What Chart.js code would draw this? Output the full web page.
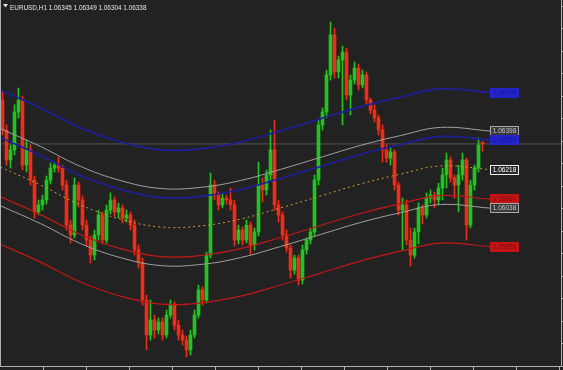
<!DOCTYPE html>
<html>
<head>
<meta charset="utf-8">
<script src="https://cdn.jsdelivr.net/npm/chart.js@4.4.0/dist/chart.umd.min.js"></script>
<style>
  html, body { margin: 0; padding: 0; background: #222222; }
  canvas { display: block; }
</style>
</head>
<body>
<canvas id="chart" width="563" height="370"></canvas>
<script>
const symbol = "EURUSD,H1";
const lastBar = ["1.06345", "1.06349", "1.06304", "1.06338"];

// H1 candles, oldest first
const opens = [
  1.06543, 1.06403, 1.06263, 1.06310, 1.06487, 1.06543, 1.06239, 1.06310, 1.06169, 1.06020,
  1.06053, 1.06076, 1.06169, 1.06225, 1.06239, 1.06225, 1.06146, 1.05959, 1.05913, 1.06146,
  1.06076, 1.05959, 1.05889, 1.05819, 1.05913, 1.06006, 1.05889, 1.06029, 1.06076, 1.06020,
  1.06039, 1.05992, 1.06006, 1.05959, 1.05843, 1.05786, 1.05609, 1.05446, 1.05516, 1.05469,
  1.05506, 1.05446, 1.05539, 1.05586, 1.05492, 1.05446, 1.05422, 1.05376, 1.05446, 1.05539,
  1.05656, 1.05609, 1.05819, 1.06146, 1.06099, 1.06053, 1.06085, 1.06076, 1.06053, 1.05889,
  1.05936, 1.05889, 1.05959, 1.05866, 1.05927, 1.06146, 1.06123, 1.06193, 1.06310, 1.06053,
  1.06006, 1.05913, 1.05852, 1.05749, 1.05805, 1.05702, 1.05843, 1.05889, 1.05927, 1.06169,
  1.06426, 1.06487, 1.06660, 1.06847, 1.06674, 1.06730, 1.06767, 1.06566, 1.06636, 1.06692,
  1.06613, 1.06660, 1.06543, 1.06496, 1.06459, 1.06403, 1.06310, 1.06272, 1.06300, 1.06146,
  1.06029, 1.06053, 1.05889, 1.05819, 1.05927, 1.06039, 1.06006, 1.06085, 1.06099, 1.06076,
  1.06132, 1.06193, 1.06263, 1.06179, 1.06146, 1.06193, 1.06263, 1.05959, 1.06146, 1.06225,
  1.06345
];
const highs = [
  1.06580, 1.06426, 1.06333, 1.06520, 1.06599, 1.06562, 1.06356, 1.06333, 1.06188, 1.06076,
  1.06099, 1.06188, 1.06249, 1.06253, 1.06277, 1.06239, 1.06169, 1.05983, 1.06179, 1.06160,
  1.06095, 1.05983, 1.05908, 1.05936, 1.06029, 1.06020, 1.06053, 1.06109, 1.06090, 1.06062,
  1.06053, 1.06029, 1.06020, 1.05983, 1.05866, 1.05805, 1.05632, 1.05609, 1.05539, 1.05525,
  1.05525, 1.05562, 1.05609, 1.05600, 1.05516, 1.05469, 1.05441, 1.05469, 1.05562, 1.05679,
  1.05670, 1.05833, 1.06202, 1.06169, 1.06113, 1.06104, 1.06099, 1.06132, 1.06076, 1.05959,
  1.05950, 1.05983, 1.05973, 1.05945, 1.06253, 1.06179, 1.06216, 1.06403, 1.06450, 1.06076,
  1.06020, 1.05936, 1.05866, 1.05819, 1.05819, 1.05866, 1.05899, 1.05945, 1.06193, 1.06450,
  1.06506, 1.06683, 1.06907, 1.06879, 1.06748, 1.06795, 1.06786, 1.06660, 1.06720, 1.06711,
  1.06683, 1.06674, 1.06552, 1.06520, 1.06473, 1.06426, 1.06333, 1.06319, 1.06310, 1.06160,
  1.06085, 1.06076, 1.05945, 1.05945, 1.06062, 1.06053, 1.06109, 1.06123, 1.06113, 1.06155,
  1.06225, 1.06295, 1.06277, 1.06193, 1.06239, 1.06295, 1.06272, 1.06169, 1.06239, 1.06366,
  1.06349
];
const lows = [
  1.06380, 1.06239, 1.06225, 1.06286, 1.06459, 1.06216, 1.06207, 1.06146, 1.05992, 1.06006,
  1.06029, 1.06057, 1.06151, 1.06207, 1.06207, 1.06123, 1.05936, 1.05875, 1.05899, 1.06043,
  1.05936, 1.05861, 1.05782, 1.05796, 1.05889, 1.05871, 1.05875, 1.06011, 1.06001, 1.05992,
  1.05969, 1.05973, 1.05936, 1.05819, 1.05758, 1.05586, 1.05376, 1.05422, 1.05432, 1.05450,
  1.05422, 1.05432, 1.05525, 1.05469, 1.05422, 1.05399, 1.05343, 1.05352, 1.05432, 1.05525,
  1.05586, 1.05595, 1.05805, 1.06076, 1.06029, 1.06039, 1.06057, 1.06029, 1.05861, 1.05871,
  1.05866, 1.05875, 1.05819, 1.05843, 1.05908, 1.06067, 1.06099, 1.06169, 1.06029, 1.05973,
  1.05889, 1.05833, 1.05712, 1.05730, 1.05679, 1.05684, 1.05824, 1.05871, 1.05908, 1.06146,
  1.06403, 1.06459, 1.06636, 1.06646, 1.06646, 1.06426, 1.06543, 1.06473, 1.06618, 1.06590,
  1.06599, 1.06524, 1.06478, 1.06440, 1.06380, 1.06253, 1.06253, 1.06239, 1.06123, 1.06006,
  1.05843, 1.05866, 1.05768, 1.05805, 1.05871, 1.05964, 1.05992, 1.06062, 1.06039, 1.06057,
  1.06076, 1.06132, 1.06160, 1.06085, 1.06020, 1.06169, 1.05889, 1.05945, 1.06123, 1.06207,
  1.06304
];
const closes = [
  1.06403, 1.06263, 1.06310, 1.06487, 1.06543, 1.06239, 1.06310, 1.06169, 1.06020, 1.06053,
  1.06076, 1.06169, 1.06225, 1.06239, 1.06225, 1.06146, 1.05959, 1.05913, 1.06146, 1.06076,
  1.05959, 1.05889, 1.05819, 1.05913, 1.06006, 1.05889, 1.06029, 1.06076, 1.06020, 1.06039,
  1.05992, 1.06006, 1.05959, 1.05843, 1.05786, 1.05609, 1.05446, 1.05516, 1.05469, 1.05506,
  1.05446, 1.05539, 1.05586, 1.05492, 1.05446, 1.05422, 1.05376, 1.05446, 1.05539, 1.05656,
  1.05609, 1.05819, 1.06146, 1.06099, 1.06053, 1.06085, 1.06076, 1.06053, 1.05889, 1.05936,
  1.05889, 1.05959, 1.05866, 1.05927, 1.06146, 1.06123, 1.06193, 1.06310, 1.06053, 1.06006,
  1.05913, 1.05852, 1.05749, 1.05805, 1.05702, 1.05843, 1.05889, 1.05927, 1.06169, 1.06426,
  1.06487, 1.06660, 1.06847, 1.06674, 1.06730, 1.06767, 1.06566, 1.06636, 1.06692, 1.06613,
  1.06660, 1.06543, 1.06496, 1.06459, 1.06403, 1.06310, 1.06272, 1.06300, 1.06146, 1.06029,
  1.06053, 1.05889, 1.05819, 1.05927, 1.06039, 1.06006, 1.06085, 1.06099, 1.06076, 1.06132,
  1.06193, 1.06263, 1.06179, 1.06146, 1.06193, 1.06263, 1.05959, 1.06146, 1.06225, 1.06333,
  1.06338
];

// band lines, read at a few bar positions
const bandIdx     = [-0.6, 9.5, 19.5, 29.5, 39.5, 49.5, 59.5, 69.5, 79.5, 89.5, 99.5, 109.5, 122];
const bandMid     = [1.06230, 1.06146, 1.06053, 1.05987, 1.05950, 1.05955, 1.05987, 1.06039, 1.06095, 1.06151, 1.06197, 1.06235, 1.06218];
const bandGrayUp  = [1.06410, 1.06326, 1.06233, 1.06167, 1.06130, 1.06135, 1.06167, 1.06219, 1.06275, 1.06331, 1.06377, 1.06415, 1.06398];
const bandBlueIn  = [1.06368, 1.06284, 1.06191, 1.06125, 1.06088, 1.06093, 1.06125, 1.06177, 1.06233, 1.06289, 1.06335, 1.06373, 1.06356];
const bandBlueOut = [1.06590, 1.06506, 1.06413, 1.06347, 1.06310, 1.06315, 1.06347, 1.06399, 1.06455, 1.06511, 1.06557, 1.06595, 1.06578];
const bandRedIn   = [1.06092, 1.06008, 1.05915, 1.05849, 1.05812, 1.05817, 1.05849, 1.05901, 1.05957, 1.06013, 1.06059, 1.06097, 1.06080];
const bandGrayDn  = [1.06050, 1.05966, 1.05873, 1.05807, 1.05770, 1.05775, 1.05807, 1.05859, 1.05915, 1.05971, 1.06017, 1.06055, 1.06038];
const bandRedOut  = [1.05870, 1.05786, 1.05693, 1.05627, 1.05590, 1.05595, 1.05627, 1.05679, 1.05735, 1.05791, 1.05837, 1.05875, 1.05858];

const priceTicks = [1.06983, 1.06878, 1.06773, 1.06668, 1.06563, 1.06458, 1.06353, 1.06248, 1.06143,
  1.06038, 1.05933, 1.05828, 1.05723, 1.05618, 1.05513, 1.05408, 1.05303];
const timeTicks = [10.125, 20.875, 31.625, 42.375, 53.125, 63.875, 74.625, 85.375, 96.125, 106.875, 117.625, 128.375, 139.125];

const bullColor = "#22c422";
const bearColor = "#ee2e18";

const pts = (arr) => arr.map((v, k) => ({ x: bandIdx[k], y: v }));
const bodyData = opens.map((o, i) => ({ x: i, y: [o, closes[i]] }));
const wickData = lows.map((l, i) => ({ x: i, y: [l, highs[i]] }));
const barColors = opens.map((o, i) => (closes[i] >= o ? bullColor : bearColor));
const bid = parseFloat(lastBar[3]);

function bandLine(data, color, width, dash) {
  return {
    type: "line",
    data: pts(data),
    borderColor: color,
    borderWidth: width,
    borderDash: dash || [],
    pointRadius: 0,
    tension: 0.4,
    order: 0,
  };
}

const levelLabels = [
  { v: bandBlueOut[12], bg: "#2424c8", border: "#2424c8", fg: "#1414a0" },
  { v: bandGrayUp[12], bg: "#3a3a3a", border: "#a8a8a8", fg: "#c8c8c8" },
  { v: bandBlueIn[12], bg: "#2424c8", border: "#2424c8", fg: "#1414a0" },
  { v: bandMid[12], bg: "#2a2a2a", border: "#f0f0f0", fg: "#ffffff" },
  { v: bandRedIn[12], bg: "#c41414", border: "#c41414", fg: "#7a0c0c" },
  { v: bandGrayDn[12], bg: "#3a3a3a", border: "#a8a8a8", fg: "#c8c8c8" },
  { v: bandRedOut[12], bg: "#c41414", border: "#c41414", fg: "#7a0c0c" },
];

const mt4Frame = {
  id: "mt4Frame",
  beforeDraw(chart) {
    const ctx = chart.ctx;
    ctx.save();
    ctx.fillStyle = "#222222";
    ctx.fillRect(0, 0, chart.width, chart.height);
    ctx.restore();
  },
  afterDraw(chart) {
    const { ctx, chartArea: a, scales } = chart;
    const x = scales.x, y = scales.y;
    ctx.save();
    ctx.strokeStyle = "#b0b0b0";
    ctx.lineWidth = 1;
    ctx.beginPath();
    ctx.moveTo(0.5, 0);
    ctx.lineTo(0.5, a.bottom + 0.5);
    ctx.moveTo(0, a.bottom + 0.5);
    ctx.lineTo(chart.width, a.bottom + 0.5);
    ctx.moveTo(a.right + 0.5, 0);
    ctx.lineTo(a.right + 0.5, a.bottom + 0.5);
    timeTicks.forEach((t) => {
      const px = Math.round(x.getPixelForValue(t)) + 0.5;
      ctx.moveTo(px, a.bottom + 1);
      ctx.lineTo(px, chart.height);
    });
    priceTicks.forEach((p) => {
      const py = Math.round(y.getPixelForValue(p)) + 0.5;
      ctx.moveTo(a.right + 1, py);
      ctx.lineTo(chart.width, py);
    });
    ctx.stroke();

    // level labels at the right end of the bands
    ctx.font = "6.5px 'Liberation Sans', Arial, sans-serif";
    ctx.textAlign = "center";
    ctx.textBaseline = "middle";
    levelLabels.forEach((l) => {
      const py = Math.round(y.getPixelForValue(l.v));
      ctx.fillStyle = l.bg;
      ctx.fillRect(490, py - 5, 29, 10);
      ctx.strokeStyle = l.border;
      ctx.strokeRect(490.5, py - 4.5, 28, 9);
      ctx.fillStyle = l.fg;
      ctx.fillText(l.v.toFixed(5), 504.5, py + 0.5);
    });

    // title
    ctx.fillStyle = "#e6e6e6";
    ctx.beginPath();
    ctx.moveTo(3, 4);
    ctx.lineTo(8, 4);
    ctx.lineTo(5.5, 7.5);
    ctx.closePath();
    ctx.fill();
    ctx.textAlign = "left";
    ctx.textBaseline = "alphabetic";
    ctx.font = "6.4px 'Liberation Sans', Arial, sans-serif";
    ctx.fillText(symbol + " " + lastBar.join(" "), 10, 9.5);
    ctx.restore();
  },
};

new Chart(document.getElementById("chart"), {
  type: "bar",
  data: {
    datasets: [
      bandLine(bandBlueOut, "#1e1ea0", 1.6),
      bandLine(bandGrayUp, "#a0a0a0", 1),
      bandLine(bandBlueIn, "#1e1ea0", 1.6),
      bandLine(bandMid, "#d99a2e", 1, [2, 3]),
      bandLine(bandRedIn, "#c01818", 1.2),
      bandLine(bandGrayDn, "#a0a0a0", 1),
      bandLine(bandRedOut, "#c01818", 1.2),
      {
        type: "bar",
        data: bodyData,
        backgroundColor: barColors,
        barThickness: 3,
        minBarLength: 1,
        grouped: false,
        borderWidth: 0,
        order: 1,
      },
      {
        type: "bar",
        data: wickData,
        backgroundColor: barColors,
        barThickness: 1,
        grouped: false,
        borderWidth: 0,
        order: 2,
      },
      {
        type: "line",
        data: [{ x: -0.625, y: bid }, { x: 139.625, y: bid }],
        borderColor: "#555555",
        borderWidth: 1,
        pointRadius: 0,
        order: 3,
      },
    ],
  },
  options: {
    responsive: false,
    animation: false,
    devicePixelRatio: 1,
    layout: { padding: { left: 0, right: 2, top: 0, bottom: 4 } },
    plugins: { legend: { display: false }, tooltip: { enabled: false } },
    scales: {
      x: { type: "linear", display: false, offset: false, min: -0.625, max: 139.625 },
      y: { type: "linear", display: false, min: 1.05301, max: 1.07010 },
    },
  },
  plugins: [mt4Frame],
});
</script>
</body>
</html>
